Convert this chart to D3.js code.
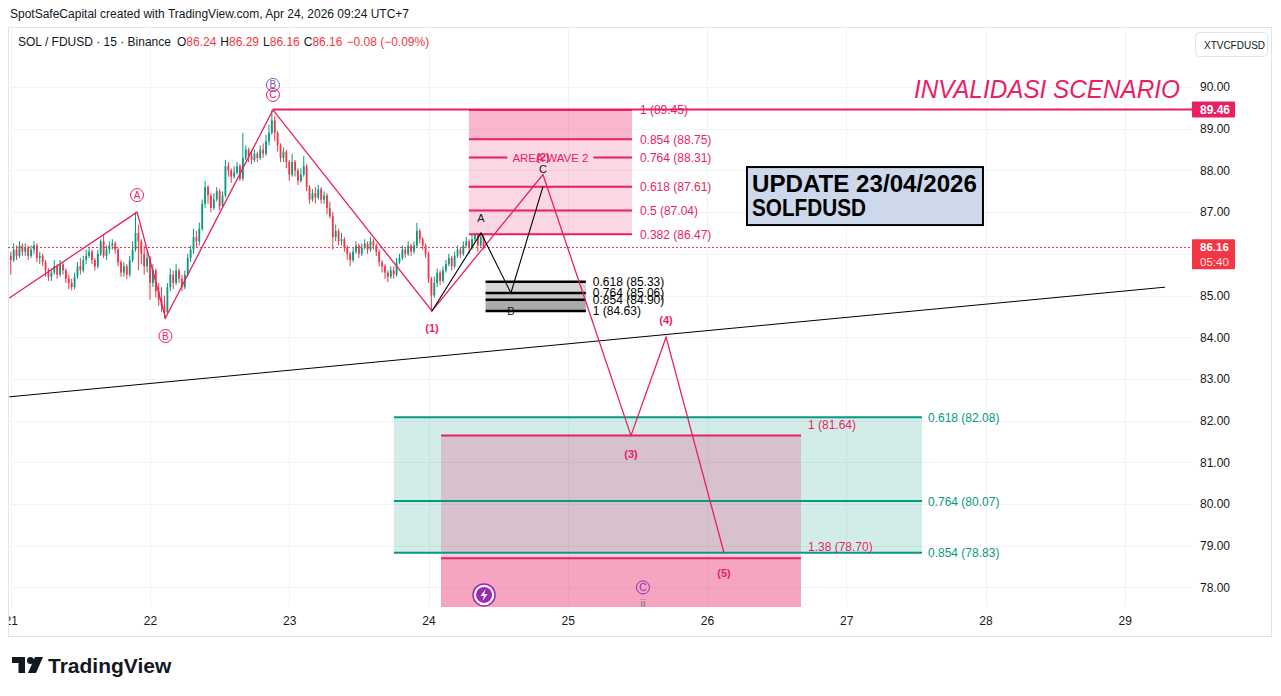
<!DOCTYPE html>
<html>
<head>
<meta charset="utf-8">
<script src="https://cdn.jsdelivr.net/npm/d3@7"></script>
<style>
  body { margin: 0; background: #fff; }
  svg { display: block; font-family: "Liberation Sans", Arial, sans-serif; }
</style>
</head>
<body>
<svg id="chart" width="1281" height="696"></svg>
<script>
// 30 minute bars from Apr 21 00:00, open of first bar
const firstDay = 21;
const barStep = 1 / 48;
const firstOpen = 85.95;

const closes = [
  85.85, 86.1, 85.95, 86.2, 86.05, 86.15, 85.95, 86.1, 86.2, 85.9,
  85.95, 85.8, 85.6, 85.45, 85.55, 85.7, 85.5, 85.75, 85.6, 85.4,
  85.3, 85.2, 85.45, 85.7, 85.6, 85.85, 85.95, 86.05, 85.85, 85.7,
  86.0, 86.3, 85.95, 86.1, 86.2, 86.25, 86.1, 85.8, 85.55, 85.7,
  85.5, 85.85, 86.1, 86.5, 86.3, 86.0, 85.7, 85.9, 85.3, 85.6,
  85.1, 84.9, 84.75, 84.6, 85.2, 85.5, 85.3, 85.6, 85.4, 85.2,
  85.5, 85.9, 86.1, 86.4, 86.3, 86.6, 87.2, 87.6, 87.4, 87.1,
  87.3, 87.5, 87.15, 87.4, 88.1, 88.0, 87.85, 87.95, 88.1, 87.8,
  88.3, 88.5, 88.35, 88.25, 88.4, 88.3, 88.5, 88.4, 88.7, 88.9,
  89.2, 88.9, 88.6, 88.3, 88.45, 88.2, 87.9, 88.2, 88.0, 87.75,
  87.9, 88.1, 87.6, 87.3, 87.45, 87.35, 87.55, 87.3, 87.4, 87.1,
  86.9, 86.4, 86.55, 86.3, 86.35, 86.15, 86.0, 85.85, 86.05, 86.2,
  86.0, 86.15, 86.25, 86.1, 86.3, 86.2, 86.05, 85.8, 85.7, 85.55,
  85.45, 85.6, 85.5, 85.8, 85.9, 86.1, 86.0, 86.2, 86.05, 86.2,
  86.55, 86.35, 86.2, 86.0, 85.4, 85.0, 85.3, 85.55, 85.35, 85.6,
  85.75, 85.9, 85.7, 85.95, 86.1, 86.0, 86.2, 86.3, 86.15, 86.35,
  86.45, 86.2, 86.4, 86.16
];
const highs = [
  86.05, 86.25, 86.2, 86.3, 86.25, 86.25, 86.2, 86.2, 86.3, 86.25,
  86.05, 86.0, 85.85, 85.65, 85.65, 85.85, 85.75, 85.85, 85.8, 85.65,
  85.5, 85.4, 85.55, 85.8, 85.9, 85.95, 86.1, 86.15, 86.1, 85.9,
  86.1, 86.35, 86.45, 86.2, 86.3, 86.35, 86.3, 86.15, 85.85, 85.8,
  85.75, 85.95, 86.3, 87.0, 86.7, 86.35, 86.2, 86.1, 85.95, 85.75,
  85.65, 85.3, 85.2, 85.0, 85.3, 85.65, 85.6, 85.75, 85.65, 85.5,
  85.6, 86.0, 86.2, 86.6, 86.55, 86.75, 87.3, 87.75, 87.65, 87.45,
  87.45, 87.6, 87.55, 87.5, 88.25, 88.2, 88.05, 88.1, 88.2, 88.15,
  88.9, 88.6, 88.55, 88.45, 88.5, 88.45, 88.6, 88.65, 88.85, 89.1,
  89.45, 89.3, 88.95, 88.65, 88.55, 88.5, 88.25, 88.4, 88.25, 88.05,
  88.05, 88.35, 88.15, 87.65, 87.55, 87.6, 87.65, 87.6, 87.5, 87.45,
  87.25, 87.0, 86.7, 86.6, 86.5, 86.4, 86.2, 86.05, 86.15, 86.3,
  86.25, 86.25, 86.35, 86.3, 86.4, 86.35, 86.25, 86.1, 85.85, 85.75,
  85.6, 85.7, 85.7, 85.9, 86.0, 86.2, 86.15, 86.3, 86.25, 86.3,
  86.74, 86.6, 86.4, 86.25, 86.05, 85.45, 85.45, 85.65, 85.6, 85.7,
  85.85, 86.0, 85.95, 86.05, 86.2, 86.15, 86.3, 86.4, 86.35, 86.45,
  86.5, 86.5, 86.5, 86.45
];
const lows = [
  85.5, 85.8, 85.85, 85.9, 85.95, 85.95, 85.85, 85.9, 86.0, 85.8,
  85.75, 85.7, 85.45, 85.35, 85.35, 85.5, 85.4, 85.45, 85.5, 85.3,
  85.15, 85.12, 85.15, 85.4, 85.5, 85.55, 85.75, 85.9, 85.75, 85.6,
  85.65, 85.95, 85.9, 85.85, 86.0, 86.1, 86.0, 85.7, 85.45, 85.45,
  85.4, 85.45, 85.8, 86.05, 85.6, 85.75, 85.5, 85.55, 84.9, 85.2,
  84.95, 84.75, 84.6, 84.45, 84.55, 85.1, 85.15, 85.25, 85.3, 85.1,
  85.15, 85.45, 85.8, 86.0, 86.15, 86.2, 86.55, 87.1, 87.2, 87.0,
  87.05, 87.25, 87.05, 87.1, 87.35, 87.85, 87.7, 87.8, 87.9, 87.75,
  87.75, 88.25, 88.2, 88.15, 88.2, 88.2, 88.25, 88.3, 88.35, 88.6,
  88.85, 88.7, 88.45, 88.2, 88.2, 88.05, 87.75, 87.85, 87.85, 87.65,
  87.7, 87.85, 87.5, 87.2, 87.25, 87.2, 87.3, 87.2, 87.2, 86.95,
  86.85, 86.1, 86.3, 86.2, 86.2, 86.05, 85.85, 85.7, 85.8, 86.0,
  85.9, 85.95, 86.1, 86.0, 86.05, 86.1, 85.95, 85.7, 85.55, 85.4,
  85.32, 85.4, 85.4, 85.45, 85.75, 85.85, 85.9, 85.95, 85.95, 86.0,
  86.15, 86.25, 86.1, 85.9, 85.3, 84.6, 84.95, 85.2, 85.25, 85.3,
  85.55, 85.7, 85.6, 85.65, 85.9, 85.9, 85.95, 86.15, 86.0, 86.1,
  86.3, 86.05, 86.15, 86.1
];
const lastPrice = 86.16;

// axes
const dayTicks = [21, 22, 23, 24, 25, 26, 27, 28, 29];
const priceTicks = [78, 79, 80, 81, 82, 83, 84, 85, 86, 87, 88, 89, 90];

// elliott count, main and sub wave
const waveLabels = ["", "Ⓐ", "Ⓑ", "Ⓒ", "(1)", "(2)", "(3)", "(4)", "(5)"];
const waveDays = [20.99, 21.907, 22.111, 22.883, 24.025, 24.822, 25.454, 25.706, 26.122];
const wavePrices = [84.94, 87.0, 84.46, 89.45, 84.63, 87.9, 81.64, 84.0, 78.83];
const subLabels = ["", "A", "B", "C"];
const subDays = [24.025, 24.377, 24.592, 24.822];
const subPrices = [84.63, 86.5, 85.06, 87.61];

// trend line
const trendDays = [20.99, 29.29];
const trendPrices = [82.57, 85.2];

// fib retracement boxes
const areaLevels = ["1", "0.854", "0.764", "0.618", "0.5", "0.382"];
const areaPrices = [89.45, 88.75, 88.31, 87.61, 87.04, 86.47];
const areaDays = [24.29, 25.461];
const bLevels = ["0.618", "0.764", "0.854", "1"];
const bPrices = [85.33, 85.06, 84.90, 84.63];
const bDays = [24.41, 25.13];
const greenLevels = ["0.618", "0.764", "0.854"];
const greenPrices = [82.08, 80.07, 78.83];
const greenDays = [23.752, 27.544];
const targetLevels = ["1", "1.38"];
const targetPrices = [81.64, 78.70];
const targetFloor = 77.0;
const targetDays = [24.09, 26.675];

const invalidPrice = 89.46;
const invalidFrom = 22.883;

const svg = d3.select("#chart");
const W = 1281, H = 696;
const plotL = 8, plotR = 1192, plotT = 27, plotB = 607;

const x = d3.scaleLinear().domain([21, 29]).range([10.75, 1124.75]);
const y = d3.scaleLinear().domain([78, 90]).range([587.4, 87]);

const pink = "#e91e63", up = "#089981", down = "#f23645", ink = "#131722";
const fmt = d3.format(".2f");

svg.append("rect").attr("width", W).attr("height", H).attr("fill", "#fff");

const defs = svg.append("defs");
defs.append("clipPath").attr("id", "plot")
  .append("rect").attr("x", plotL).attr("y", plotT)
  .attr("width", plotR - plotL).attr("height", plotB - plotT);
defs.append("clipPath").attr("id", "timeaxis")
  .append("rect").attr("x", 9).attr("y", plotB).attr("width", plotR - 9).attr("height", 30);

// panel frame
svg.append("rect")
  .attr("x", plotL + 0.5).attr("y", plotT + 0.5)
  .attr("width", 1271 - plotL).attr("height", 636 - plotT)
  .attr("fill", "none").attr("stroke", "#e0e3eb");

const plot = svg.append("g").attr("clip-path", "url(#plot)");

// grid
plot.selectAll("line.hg").data(priceTicks).join("line")
  .attr("x1", plotL).attr("x2", plotR)
  .attr("y1", d => Math.round(y(d)) + 0.5).attr("y2", d => Math.round(y(d)) + 0.5)
  .attr("stroke", "#f0f3fa");
plot.selectAll("line.vg").data(dayTicks).join("line")
  .attr("y1", plotT).attr("y2", plotB)
  .attr("x1", d => Math.round(x(d)) + 0.5).attr("x2", d => Math.round(x(d)) + 0.5)
  .attr("stroke", "#f0f3fa");

// candles
const candles = closes.map((c, i) => ({
  t: firstDay + i * barStep,
  o: i === 0 ? firstOpen : closes[i - 1],
  h: highs[i], l: lows[i], c: c
}));
const cg = plot.append("g");
cg.selectAll("line").data(candles).join("line")
  .attr("x1", d => x(d.t)).attr("x2", d => x(d.t))
  .attr("y1", d => y(d.h)).attr("y2", d => y(d.l))
  .attr("stroke", d => d.c >= d.o ? up : down).attr("stroke-width", 1);
cg.selectAll("rect").data(candles).join("rect")
  .attr("x", d => x(d.t) - 0.9).attr("width", 1.8)
  .attr("y", d => y(Math.max(d.o, d.c)))
  .attr("height", d => Math.max(1, Math.abs(y(d.o) - y(d.c))))
  .attr("fill", d => d.c >= d.o ? up : down);

// green fib box
plot.append("rect")
  .attr("x", x(greenDays[0])).attr("width", x(greenDays[1]) - x(greenDays[0]))
  .attr("y", y(greenPrices[0])).attr("height", y(greenPrices[2]) - y(greenPrices[0]))
  .attr("fill", "rgba(8,153,129,0.18)");

// target box (pink)
plot.append("rect")
  .attr("x", x(targetDays[0])).attr("width", x(targetDays[1]) - x(targetDays[0]))
  .attr("y", y(targetPrices[0])).attr("height", y(targetPrices[1]) - y(targetPrices[0]))
  .attr("fill", "rgba(233,30,99,0.21)");
plot.append("rect")
  .attr("x", x(targetDays[0])).attr("width", x(targetDays[1]) - x(targetDays[0]))
  .attr("y", y(targetPrices[1])).attr("height", y(targetFloor) - y(targetPrices[1]))
  .attr("fill", "rgba(233,30,99,0.4)");

plot.selectAll("line.gl").data(greenPrices).join("line")
  .attr("x1", x(greenDays[0])).attr("x2", x(greenDays[1]))
  .attr("y1", d => y(d)).attr("y2", d => y(d))
  .attr("stroke", up).attr("stroke-width", 2);
plot.selectAll("line.tl").data(targetPrices).join("line")
  .attr("x1", x(targetDays[0])).attr("x2", x(targetDays[1]))
  .attr("y1", d => y(d)).attr("y2", d => y(d))
  .attr("stroke", pink).attr("stroke-width", 2);

// AREA WAVE 2 box
for (let i = 0; i < areaPrices.length - 1; i++) {
  plot.append("rect")
    .attr("x", x(areaDays[0])).attr("width", x(areaDays[1]) - x(areaDays[0]))
    .attr("y", y(areaPrices[i])).attr("height", y(areaPrices[i + 1]) - y(areaPrices[i]))
    .attr("fill", i === 0 ? "rgba(233,30,99,0.32)" : "rgba(233,30,99,0.18)");
}
const areaMid = (x(areaDays[0]) + x(areaDays[1])) / 2;
const areaTxt = plot.append("text")
  .attr("x", areaMid).attr("y", y(areaPrices[2]) + 4.5)
  .attr("text-anchor", "middle").attr("font-size", 11.5).attr("fill", pink)
  .text("AREA WAVE 2");
const atw = areaTxt.node().getComputedTextLength();
areaPrices.forEach((p, i) => {
  if (i === 2) {
    plot.append("line").attr("x1", x(areaDays[0])).attr("x2", areaMid - atw / 2 - 5)
      .attr("y1", y(p)).attr("y2", y(p)).attr("stroke", pink).attr("stroke-width", 2);
    plot.append("line").attr("x1", areaMid + atw / 2 + 5).attr("x2", x(areaDays[1]))
      .attr("y1", y(p)).attr("y2", y(p)).attr("stroke", pink).attr("stroke-width", 2);
  } else {
    plot.append("line").attr("x1", x(areaDays[0])).attr("x2", x(areaDays[1]))
      .attr("y1", y(p)).attr("y2", y(p)).attr("stroke", pink).attr("stroke-width", 2);
  }
});

// B retracement box (gray)
const grays = ["#d6d6d6", "#c6c6c6", "#ababab"];
for (let i = 0; i < bPrices.length - 1; i++) {
  plot.append("rect")
    .attr("x", x(bDays[0])).attr("width", x(bDays[1]) - x(bDays[0]))
    .attr("y", y(bPrices[i])).attr("height", y(bPrices[i + 1]) - y(bPrices[i]))
    .attr("fill", grays[i]);
}
plot.selectAll("line.bl").data(bPrices).join("line")
  .attr("x1", x(bDays[0])).attr("x2", x(bDays[1]))
  .attr("y1", d => y(d)).attr("y2", d => y(d))
  .attr("stroke", "#000").attr("stroke-width", 2.5);

// current price dotted
plot.append("line")
  .attr("x1", plotL).attr("x2", plotR)
  .attr("y1", Math.round(y(lastPrice)) + 0.5).attr("y2", Math.round(y(lastPrice)) + 0.5)
  .attr("stroke", down).attr("stroke-width", 1.2).attr("stroke-dasharray", "2,2");

// trend line
const line = d3.line().x(d => x(d[0])).y(d => y(d[1]));
plot.append("path")
  .attr("d", line(d3.zip(trendDays, trendPrices)))
  .attr("fill", "none").attr("stroke", "#000").attr("stroke-width", 1);

// invalidation line
plot.append("line")
  .attr("x1", x(invalidFrom)).attr("x2", plotR)
  .attr("y1", y(invalidPrice)).attr("y2", y(invalidPrice))
  .attr("stroke", pink).attr("stroke-width", 2);

// wave paths
plot.append("path")
  .attr("d", line(d3.zip(waveDays, wavePrices)))
  .attr("fill", "none").attr("stroke", pink).attr("stroke-width", 1.3)
  .attr("stroke-linejoin", "miter");
plot.append("path")
  .attr("d", line(d3.zip(subDays, subPrices)))
  .attr("fill", "none").attr("stroke", "#000").attr("stroke-width", 1.1);

// fib labels
const lab = svg.append("g").attr("font-size", 12);
areaPrices.forEach((p, i) => {
  lab.append("text").attr("x", x(areaDays[1]) + 8).attr("y", y(p) + 4.5)
    .attr("fill", pink).text(`${areaLevels[i]} (${fmt(p)})`);
});
bPrices.forEach((p, i) => {
  lab.append("text").attr("x", x(bDays[1]) + 7).attr("y", y(p) + 4.5)
    .attr("fill", "#000").text(`${bLevels[i]} (${fmt(p)})`);
});
greenPrices.forEach((p, i) => {
  lab.append("text").attr("x", x(greenDays[1]) + 6).attr("y", y(p) + 4.5)
    .attr("fill", up).text(`${greenLevels[i]} (${fmt(p)})`);
});
targetPrices.forEach((p, i) => {
  lab.append("text").attr("x", x(targetDays[1]) + 7).attr("y", y(p) - 7)
    .attr("fill", pink).text(`${targetLevels[i]} (${fmt(p)})`);
});

// wave labels
function circled(g, cx, cy, letter, color) {
  g.append("circle").attr("cx", cx).attr("cy", cy).attr("r", 6.5)
    .attr("fill", "none").attr("stroke", color).attr("stroke-width", 1);
  g.append("text").attr("x", cx).attr("y", cy + 3.5).attr("text-anchor", "middle")
    .attr("font-size", 10).attr("fill", color).text(letter);
}
const wl = svg.append("g").attr("clip-path", "url(#plot)");
const waveOff = [0, -17, 18, -15, 17, -18, 18, -17, 20];
waveLabels.forEach((t, i) => {
  if (!t) return;
  const px = x(waveDays[i]), py = y(wavePrices[i]) + waveOff[i];
  if (t.length === 1) {
    circled(wl, px, py, { "Ⓐ": "A", "Ⓑ": "B", "Ⓒ": "C" }[t], pink);
  } else {
    wl.append("text").attr("x", px).attr("y", py + 4).attr("text-anchor", "middle")
      .attr("font-size", 11).attr("font-weight", "bold").attr("fill", pink).text(t);
  }
});
// extra purple B above the C top
circled(wl, x(waveDays[3]), y(wavePrices[3]) - 25, "B", "#7e57c2");
const subOff = [0, -15, 18, -18];
subLabels.forEach((t, i) => {
  if (!t) return;
  wl.append("text").attr("x", x(subDays[i])).attr("y", y(subPrices[i]) + subOff[i] + 4)
    .attr("text-anchor", "middle").attr("font-size", 11).attr("fill", ink).text(t);
});
// wave c of ii marker
circled(wl, x(25.54), y(78.0), "C", "#9c27b0");
wl.append("text").attr("x", x(25.54)).attr("y", y(78.0) + 21).attr("text-anchor", "middle")
  .attr("font-size", 12).attr("fill", "#787b86").text("ii");

// lightning icon
const lx = x(24.399), ly = y(77.82);
wl.append("circle").attr("cx", lx).attr("cy", ly).attr("r", 11)
  .attr("fill", "#fff").attr("stroke", "#9c27b0").attr("stroke-width", 1.5);
wl.append("circle").attr("cx", lx).attr("cy", ly).attr("r", 8).attr("fill", "#9c27b0");
wl.append("path")
  .attr("d", `M${lx + 1.5},${ly - 6} L${lx - 3.5},${ly + 1} L${lx - 0.2},${ly + 1} L${lx - 1.5},${ly + 6} L${lx + 3.5},${ly - 1} L${lx + 0.2},${ly - 1} Z`)
  .attr("fill", "#fff");

// INVALIDASI SCENARIO
svg.append("text")
  .attr("x", 1180).attr("y", y(invalidPrice) - 12)
  .attr("text-anchor", "end").attr("font-size", 25).attr("font-style", "italic")
  .attr("fill", pink).attr("textLength", 266).attr("lengthAdjust", "spacingAndGlyphs")
  .text("INVALIDASI SCENARIO");

// UPDATE note
const nx = x(26.287), ny = y(88.08);
svg.append("rect").attr("x", nx).attr("y", ny).attr("width", 236).attr("height", 58)
  .attr("fill", "#cdd9ea").attr("stroke", "#000").attr("stroke-width", 2);
svg.append("text").attr("x", nx + 5).attr("y", ny + 25).attr("font-size", 23)
  .attr("font-weight", "bold").attr("fill", "#000")
  .attr("textLength", 225).attr("lengthAdjust", "spacingAndGlyphs").text("UPDATE 23/04/2026");
svg.append("text").attr("x", nx + 5).attr("y", ny + 49).attr("font-size", 23)
  .attr("font-weight", "bold").attr("fill", "#000")
  .attr("textLength", 114).attr("lengthAdjust", "spacingAndGlyphs").text("SOLFDUSD");

// price axis
const yAxis = svg.append("g").attr("transform", `translate(${plotR},0)`)
  .call(d3.axisRight(y).tickValues(priceTicks).tickFormat(fmt).tickSize(0).tickPadding(8));
yAxis.select(".domain").remove();
yAxis.selectAll("text").attr("font-size", 12).attr("fill", ink)
  .attr("font-family", "Liberation Sans, Arial, sans-serif");

// price tags
const iy = y(invalidPrice);
svg.append("rect").attr("x", plotR).attr("y", iy - 8).attr("width", 43).attr("height", 16)
  .attr("rx", 1).attr("fill", pink);
svg.append("text").attr("x", plotR + 8).attr("y", iy + 4.5).attr("font-size", 12)
  .attr("font-weight", "bold").attr("fill", "#fff").text(fmt(invalidPrice));
const cy0 = y(lastPrice);
svg.append("rect").attr("x", plotR).attr("y", cy0 - 8).attr("width", 43).attr("height", 30)
  .attr("rx", 1).attr("fill", down);
svg.append("text").attr("x", plotR + 8).attr("y", cy0 + 4).attr("font-size", 11.5)
  .attr("font-weight", "bold").attr("fill", "#fff").text(fmt(lastPrice));
svg.append("text").attr("x", plotR + 8).attr("y", cy0 + 18.5).attr("font-size", 11.5)
  .attr("fill", "#fff").attr("opacity", 0.85).text("05:40");

// time axis
const xAxis = svg.append("g").attr("clip-path", "url(#timeaxis)")
  .append("g").attr("transform", `translate(0,${plotB})`)
  .call(d3.axisBottom(x).tickValues(dayTicks).tickFormat(d3.format("d")).tickSize(0).tickPadding(9));
xAxis.select(".domain").remove();
xAxis.selectAll("text").attr("font-size", 12).attr("fill", ink)
  .attr("font-family", "Liberation Sans, Arial, sans-serif");

// symbol box top right
svg.append("rect").attr("x", 1195.5).attr("y", 32.5).attr("width", 72).attr("height", 24)
  .attr("rx", 4).attr("fill", "#fff").attr("stroke", "#e0e3eb");
svg.append("text").attr("x", 1204).attr("y", 49).attr("font-size", 11.5).attr("fill", ink)
  .attr("textLength", 61).attr("lengthAdjust", "spacingAndGlyphs").text("XTVCFDUSD");

// header
svg.append("text").attr("x", 10).attr("y", 18).attr("font-size", 12).attr("fill", ink)
  .text("SpotSafeCapital created with TradingView.com, Apr 24, 2026 09:24 UTC+7");

const legend = svg.append("text").attr("x", 18).attr("y", 46).attr("font-size", 12).attr("fill", ink);
legend.append("tspan").text("SOL / FDUSD · 15 · Binance");
[["O", "86.24"], ["H", "86.29"], ["L", "86.16"], ["C", "86.16"]].forEach((p, i) => {
  legend.append("tspan").attr("dx", i === 0 ? 6 : 4).text(p[0]);
  legend.append("tspan").attr("fill", down).text(p[1]);
});
legend.append("tspan").attr("dx", 4).attr("fill", down).text("−0.08 (−0.09%)");

// TradingView logo
const logo = svg.append("g").attr("fill", ink);
logo.append("path").attr("d", "M12,657 H25 V673 H18.5 V663 H12 Z");
logo.append("circle").attr("cx", 30.5).attr("cy", 660.5).attr("r", 3.5);
logo.append("path").attr("d", "M35,657 H43 L36,673 H28 Z");
svg.append("text").attr("x", 48).attr("y", 673).attr("font-size", 21)
  .attr("font-weight", "bold").attr("fill", ink).text("TradingView");
</script>
</body>
</html>
